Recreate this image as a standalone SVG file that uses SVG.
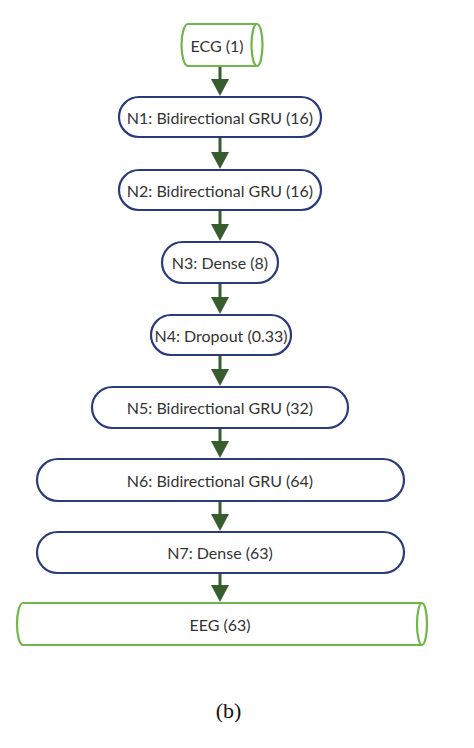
<svg xmlns="http://www.w3.org/2000/svg" width="474" height="748" viewBox="0 0 474 748">
<style>
.node{fill:#ffffff;stroke:#2b3a7a;stroke-width:2.2}
.io{fill:#ffffff;stroke:#72b54c;stroke-width:2.2}
.lbl{font-family:Lato,"Open Sans",sans-serif;font-size:16px;fill:#333333;text-anchor:middle;dominant-baseline:central}
.conn{stroke:#375d2f;stroke-width:3;fill:none}
.head{fill:#375d2f}
</style>
<rect width="474" height="748" fill="#ffffff"/>
<g id="connectors">
<line class="conn" x1="220" y1="66" x2="220" y2="82"/><polygon class="head" points="211,79 229,79 220,96"/>
<line class="conn" x1="220" y1="137" x2="220" y2="155"/><polygon class="head" points="211,152 229,152 220,169"/>
<line class="conn" x1="220" y1="210" x2="220" y2="227"/><polygon class="head" points="211,224 229,224 220,241"/>
<line class="conn" x1="220" y1="283" x2="220" y2="300"/><polygon class="head" points="211,297 229,297 220,314"/>
<line class="conn" x1="220" y1="355" x2="220" y2="372"/><polygon class="head" points="211,369 229,369 220,386"/>
<line class="conn" x1="220" y1="428" x2="220" y2="444"/><polygon class="head" points="211,441 229,441 220,458"/>
<line class="conn" x1="220" y1="501" x2="220" y2="517"/><polygon class="head" points="211,514 229,514 220,531"/>
<line class="conn" x1="220" y1="573" x2="220" y2="588"/><polygon class="head" points="211,585 229,585 220,602"/>
</g>
<g id="ecg">
<path class="io" d="M188,24 L257,24 A5.5,21 0 0 1 257,66 L188,66 A6.5,21 0 0 1 188,24 Z"/>
<path class="io" d="M257,24 A5.5,21 0 0 0 257,66" fill="none"/>
<text class="lbl" x="217" y="45">ECG (1)</text>
</g>
<g id="n1">
<rect class="node" x="119" y="97" width="202" height="40" rx="20"/>
<text class="lbl" x="220" y="117">N1: Bidirectional GRU (16)</text>
</g>
<g id="n2">
<rect class="node" x="119" y="170" width="202" height="40" rx="20"/>
<text class="lbl" x="220" y="190">N2: Bidirectional GRU (16)</text>
</g>
<g id="n3">
<rect class="node" x="162" y="242" width="116" height="41" rx="20.5"/>
<text class="lbl" x="220" y="262.5">N3: Dense (8)</text>
</g>
<g id="n4">
<rect class="node" x="151" y="315" width="140" height="40" rx="20"/>
<text class="lbl" x="221" y="335">N4: Dropout (0.33)</text>
</g>
<g id="n5">
<rect class="node" x="92" y="387" width="256" height="41" rx="20.5"/>
<text class="lbl" x="220" y="407.5">N5: Bidirectional GRU (32)</text>
</g>
<g id="n6">
<rect class="node" x="37" y="459" width="367" height="42" rx="21"/>
<text class="lbl" x="220" y="480">N6: Bidirectional GRU (64)</text>
</g>
<g id="n7">
<rect class="node" x="37" y="532" width="367" height="41" rx="20.5"/>
<text class="lbl" x="220" y="552.5">N7: Dense (63)</text>
</g>
<g id="eeg">
<path class="io" d="M23,603 L422,603 A5,21 0 0 1 422,645 L23,645 A6,21 0 0 1 23,603 Z"/>
<path class="io" d="M422,603 A5,21 0 0 0 422,645" fill="none"/>
<text class="lbl" x="220" y="624">EEG (63)</text>
</g>
<text x="228.5" y="718" font-family="'Liberation Serif',serif" font-size="22" fill="#111111" text-anchor="middle">(b)</text>
</svg>
